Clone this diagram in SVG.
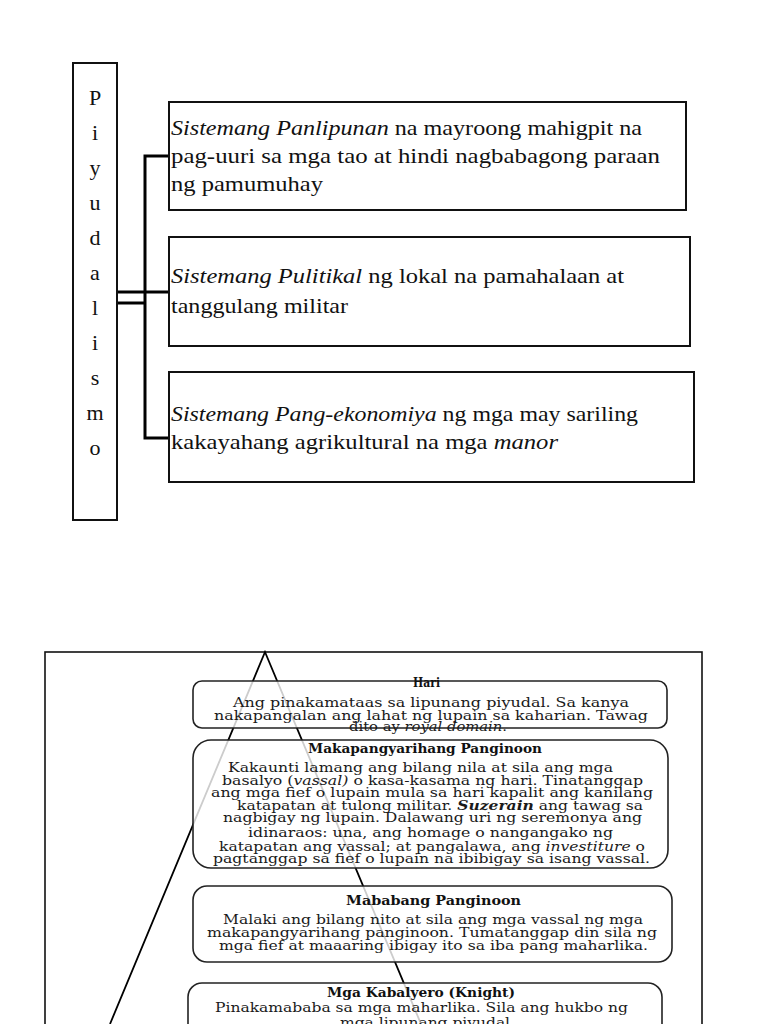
<svg xmlns="http://www.w3.org/2000/svg" width="768" height="1024" viewBox="0 0 768 1024">
<style>
.bg{fill:#fff}
.sbox{fill:#fff;stroke:#111;stroke-width:2}
.vt{font-family:"Liberation Serif","DejaVu Serif",serif;font-size:22px;fill:#111;text-anchor:middle}
.tt{font-family:"Liberation Serif","DejaVu Serif",serif;font-size:22px;fill:#111}
.conn{fill:none;stroke:#000;stroke-width:3}
.frame{fill:none;stroke:#111;stroke-width:1.6}
.pyr{fill:none;stroke:#000;stroke-width:1.8}
.rbox{fill:#fff;fill-opacity:0.8;stroke:#222;stroke-width:1.6}
.bt{font-family:"DejaVu Serif","Liberation Serif",serif;font-size:12.5px;fill:#1a1a1a}
.bh{font-family:"DejaVu Serif","Liberation Serif",serif;font-size:12.5px;font-weight:bold;fill:#111}
</style>
<rect class="bg" x="0" y="0" width="768" height="1024"/>

<g id="connectors">
  <path class="conn" d="M169,156 H145 V438 H169"/>
  <path class="conn" d="M117,292 H169"/>
  <path class="conn" d="M117,303 H145"/>
</g>

<g id="piyudalismo">
  <rect class="sbox" x="73" y="63" width="44" height="457"/>
  <text class="vt" x="95" y="105">P</text>
  <text class="vt" x="95" y="140">i</text>
  <text class="vt" x="95" y="175">y</text>
  <text class="vt" x="95" y="210">u</text>
  <text class="vt" x="95" y="245">d</text>
  <text class="vt" x="95" y="280">a</text>
  <text class="vt" x="95" y="315">l</text>
  <text class="vt" x="95" y="350">i</text>
  <text class="vt" x="95" y="385">s</text>
  <text class="vt" x="95" y="420">m</text>
  <text class="vt" x="95" y="455">o</text>
</g>

<g id="panlipunan">
  <rect class="sbox" x="169" y="102" width="517" height="108"/>
  <text class="tt" x="171" y="135" textLength="471" lengthAdjust="spacingAndGlyphs"><tspan font-style="italic">Sistemang Panlipunan</tspan> na mayroong mahigpit na</text>
  <text class="tt" x="171" y="163" textLength="489" lengthAdjust="spacingAndGlyphs">pag-uuri sa mga tao at hindi nagbabagong paraan</text>
  <text class="tt" x="171" y="191" textLength="152" lengthAdjust="spacingAndGlyphs">ng pamumuhay</text>
</g>

<g id="pulitikal">
  <rect class="sbox" x="169" y="237" width="521" height="109"/>
  <text class="tt" x="171" y="283" textLength="453" lengthAdjust="spacingAndGlyphs"><tspan font-style="italic">Sistemang Pulitikal</tspan> ng lokal na pamahalaan at</text>
  <text class="tt" x="171" y="313" textLength="177" lengthAdjust="spacingAndGlyphs">tanggulang militar</text>
</g>

<g id="ekonomiya">
  <rect class="sbox" x="169" y="372" width="525" height="110"/>
  <text class="tt" x="171" y="421" textLength="467" lengthAdjust="spacingAndGlyphs"><tspan font-style="italic">Sistemang Pang-ekonomiya</tspan> ng mga may sariling</text>
  <text class="tt" x="171" y="449" textLength="387" lengthAdjust="spacingAndGlyphs">kakayahang agrikultural na mga <tspan font-style="italic">manor</tspan></text>
</g>

<g id="frame">
  <rect class="frame" x="45" y="652" width="657" height="400"/>
</g>

<g id="pyramid">
  <path class="pyr" d="M110,1024 L265,652 L421,1024"/>
</g>

<g id="hari">
  <rect class="rbox" x="193" y="681" width="474" height="47" rx="9"/>
  <text class="bh" x="413" y="687" textLength="27" lengthAdjust="spacingAndGlyphs">Hari</text>
  <text class="bt" x="233" y="707" textLength="396" lengthAdjust="spacingAndGlyphs">Ang pinakamataas sa lipunang piyudal. Sa kanya</text>
  <text class="bt" x="214" y="720" textLength="434" lengthAdjust="spacingAndGlyphs">nakapangalan ang lahat ng lupain sa kaharian. Tawag</text>
  <text class="bt" x="349" y="731" textLength="158" lengthAdjust="spacingAndGlyphs">dito ay <tspan font-style="italic">royal domain</tspan>.</text>
</g>

<g id="makapangyarihang">
  <rect class="rbox" x="193" y="740" width="475" height="128" rx="18"/>
  <text class="bh" x="308" y="753" textLength="234" lengthAdjust="spacingAndGlyphs">Makapangyarihang  Panginoon</text>
  <text class="bt" x="228" y="772" textLength="385" lengthAdjust="spacingAndGlyphs">Kakaunti lamang ang bilang nila at sila ang mga</text>
  <text class="bt" x="222" y="785" textLength="421" lengthAdjust="spacingAndGlyphs">basalyo (<tspan font-style="italic">vassal)</tspan> o kasa-kasama ng hari. Tinatanggap</text>
  <text class="bt" x="211" y="797" textLength="442" lengthAdjust="spacingAndGlyphs">ang mga fief o lupain mula sa hari kapalit ang kanilang</text>
  <text class="bt" x="237" y="810" textLength="406" lengthAdjust="spacingAndGlyphs">katapatan at tulong militar. <tspan font-weight="bold" font-style="italic">Suzerain</tspan> ang tawag sa</text>
  <text class="bt" x="223" y="822" textLength="419" lengthAdjust="spacingAndGlyphs">nagbigay ng lupain. Dalawang uri ng seremonya ang</text>
  <text class="bt" x="248" y="837" textLength="365" lengthAdjust="spacingAndGlyphs">idinaraos: una, ang homage o nangangako ng</text>
  <text class="bt" x="219" y="851" textLength="426" lengthAdjust="spacingAndGlyphs">katapatan ang vassal; at pangalawa, ang <tspan font-style="italic">investiture</tspan> o</text>
  <text class="bt" x="213" y="863" textLength="437" lengthAdjust="spacingAndGlyphs">pagtanggap sa fief o lupain na ibibigay sa isang vassal.</text>
</g>

<g id="mababang">
  <rect class="rbox" x="193" y="886" width="479" height="76" rx="14"/>
  <text class="bh" x="346" y="905" textLength="175" lengthAdjust="spacingAndGlyphs">Mababang Panginoon</text>
  <text class="bt" x="223" y="924" textLength="420" lengthAdjust="spacingAndGlyphs">Malaki ang bilang nito at sila ang mga vassal ng mga</text>
  <text class="bt" x="207" y="937" textLength="450" lengthAdjust="spacingAndGlyphs">makapangyarihang panginoon. Tumatanggap din sila ng</text>
  <text class="bt" x="219" y="950" textLength="429" lengthAdjust="spacingAndGlyphs">mga fief at maaaring ibigay ito sa iba pang maharlika.</text>
</g>

<g id="kabalyero">
  <rect class="rbox" x="188" y="983" width="474" height="80" rx="14"/>
  <text class="bh" x="327" y="997" textLength="188" lengthAdjust="spacingAndGlyphs">Mga Kabalyero (Knight)</text>
  <text class="bt" x="215" y="1012" textLength="413" lengthAdjust="spacingAndGlyphs">Pinakamababa sa mga maharlika. Sila ang hukbo ng</text>
  <text class="bt" x="340" y="1027" textLength="175" lengthAdjust="spacingAndGlyphs">mga lipunang piyudal.</text>
</g>
</svg>
